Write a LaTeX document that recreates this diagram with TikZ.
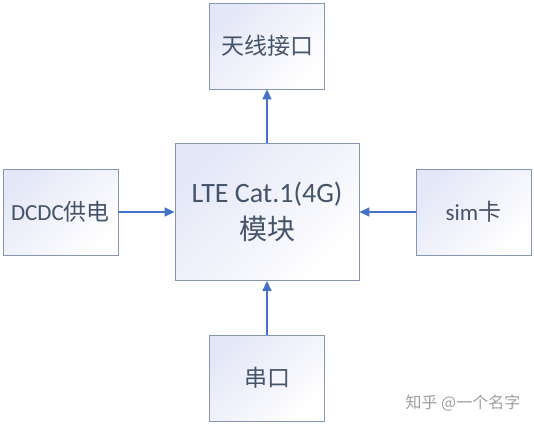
\documentclass[tikz,border=0pt]{standalone}
\usepackage{fontspec}
\setmainfont{Carlito}
\newfontfamily\cjk{Noto Sans CJK SC}
\usetikzlibrary{arrows.meta, positioning}
\definecolor{boxline}{HTML}{8496B0}
\definecolor{boxtop}{HTML}{E4E7F7}
\definecolor{arrowblue}{HTML}{4472C4}
\definecolor{textblue}{HTML}{44546A}
\tikzstyle{block} = [rectangle, minimum width=115pt, minimum height=86pt, inner sep=0pt, text centered, draw=boxline, line width=0.9pt, top color=boxtop, bottom color=white, shading angle=45, text=textblue, font=\fontsize{23}{27}\selectfont]
\tikzstyle{arrow} = [-{Triangle[width=9pt,length=10pt]}, draw=arrowblue, fill=arrowblue, line width=1.8pt]

\begin{document}
\begin{tikzpicture}[x=1pt, y=-1pt]
    \useasboundingbox (0,0) rectangle (534,426);

    \node (module) [block, minimum width=184pt, minimum height=137pt, align=center, font=\fontsize{28}{37}\selectfont] at (267, 212) {LTE Cat.1(4G)\\{\cjk 模块}};
    \node (antenna) [block] at (267, 46) {\cjk 天线接口};
    \node (power) [block] at (60.5, 212) {DCDC{\cjk 供电}};
    \node (sim) [block] at (473.5, 212) {sim{\cjk 卡}};
    \node (uart) [block] at (267, 378) {\cjk 串口};
    \node (mark) [text=black!38, font=\fontsize{16}{18}\selectfont] at (463, 403) {\cjk 知乎 @一个名字};

    \draw [arrow] (module) -- (antenna);
    \draw [arrow] (power) -- (module);
    \draw [arrow] (sim) -- (module);
    \draw [arrow] (uart) -- (module);

\end{tikzpicture}
\end{document}
